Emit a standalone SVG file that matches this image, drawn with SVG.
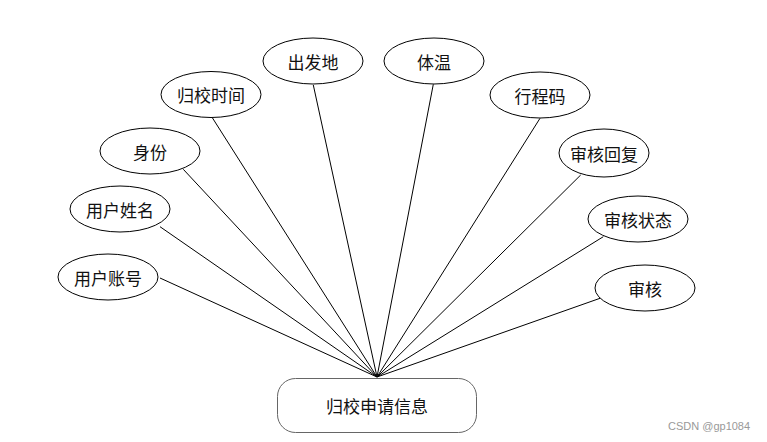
<svg xmlns="http://www.w3.org/2000/svg" width="767" height="442" viewBox="0 0 767 442">
<style>
.n ellipse{fill:#fff;stroke:#000;stroke-width:1}
.n text,.m text{font-family:"Noto Sans CJK SC","Noto Sans CJK JP",sans-serif;font-size:17px;fill:#111;text-anchor:middle;dominant-baseline:central}
#edges line{stroke:#000;stroke-width:1}
.wm{font-family:"Liberation Sans",Arial,sans-serif;font-size:11px;fill:#999}
</style>
<rect width="767" height="442" fill="#fff"/>
<g id="edges">
<line x1="160" y1="278" x2="377" y2="377"/>
<line x1="160" y1="226.7" x2="377" y2="377"/>
<line x1="183.3" y1="169.3" x2="377" y2="377"/>
<line x1="212.3" y1="117.7" x2="377" y2="377"/>
<line x1="313.3" y1="85" x2="377" y2="377"/>
<line x1="433.3" y1="84.3" x2="377" y2="377"/>
<line x1="540" y1="118.3" x2="377" y2="377"/>
<line x1="580.7" y1="175" x2="377" y2="377"/>
<line x1="603.3" y1="236.7" x2="377" y2="377"/>
<line x1="600" y1="298.3" x2="377" y2="377"/>
</g>
<g id="n-main" class="m">
<rect x="277.5" y="378.5" width="199" height="54" rx="18" ry="18" fill="#fff" stroke="#666" stroke-width="1"/>
<text x="377" y="405.5">归校申请信息</text>
</g>
<g id="n-zhanghao" class="n"><ellipse cx="108" cy="277" rx="50" ry="23"/><text x="108" y="277">用户账号</text></g>
<g id="n-xingming" class="n"><ellipse cx="120" cy="209" rx="50" ry="23"/><text x="120" y="209">用户姓名</text></g>
<g id="n-shenfen" class="n"><ellipse cx="150" cy="151" rx="50" ry="23"/><text x="150" y="151">身份</text></g>
<g id="n-shijian" class="n"><ellipse cx="211" cy="94.5" rx="50" ry="23"/><text x="211" y="94.5">归校时间</text></g>
<g id="n-chufadi" class="n"><ellipse cx="313" cy="61" rx="50" ry="23"/><text x="313" y="61">出发地</text></g>
<g id="n-tiwen" class="n"><ellipse cx="434" cy="61" rx="50" ry="23"/><text x="434" y="61">体温</text></g>
<g id="n-xingchengma" class="n"><ellipse cx="540" cy="95" rx="50" ry="23"/><text x="540" y="95">行程码</text></g>
<g id="n-huifu" class="n"><ellipse cx="604" cy="153" rx="45" ry="24"/><text x="604" y="153">审核回复</text></g>
<g id="n-zhuangtai" class="n"><ellipse cx="638" cy="219" rx="50" ry="23"/><text x="638" y="219">审核状态</text></g>
<g id="n-shenhe" class="n"><ellipse cx="645" cy="288" rx="50" ry="23"/><text x="645" y="288">审核</text></g>
<text class="wm" x="668" y="430">CSDN @gp1084</text>
</svg>
